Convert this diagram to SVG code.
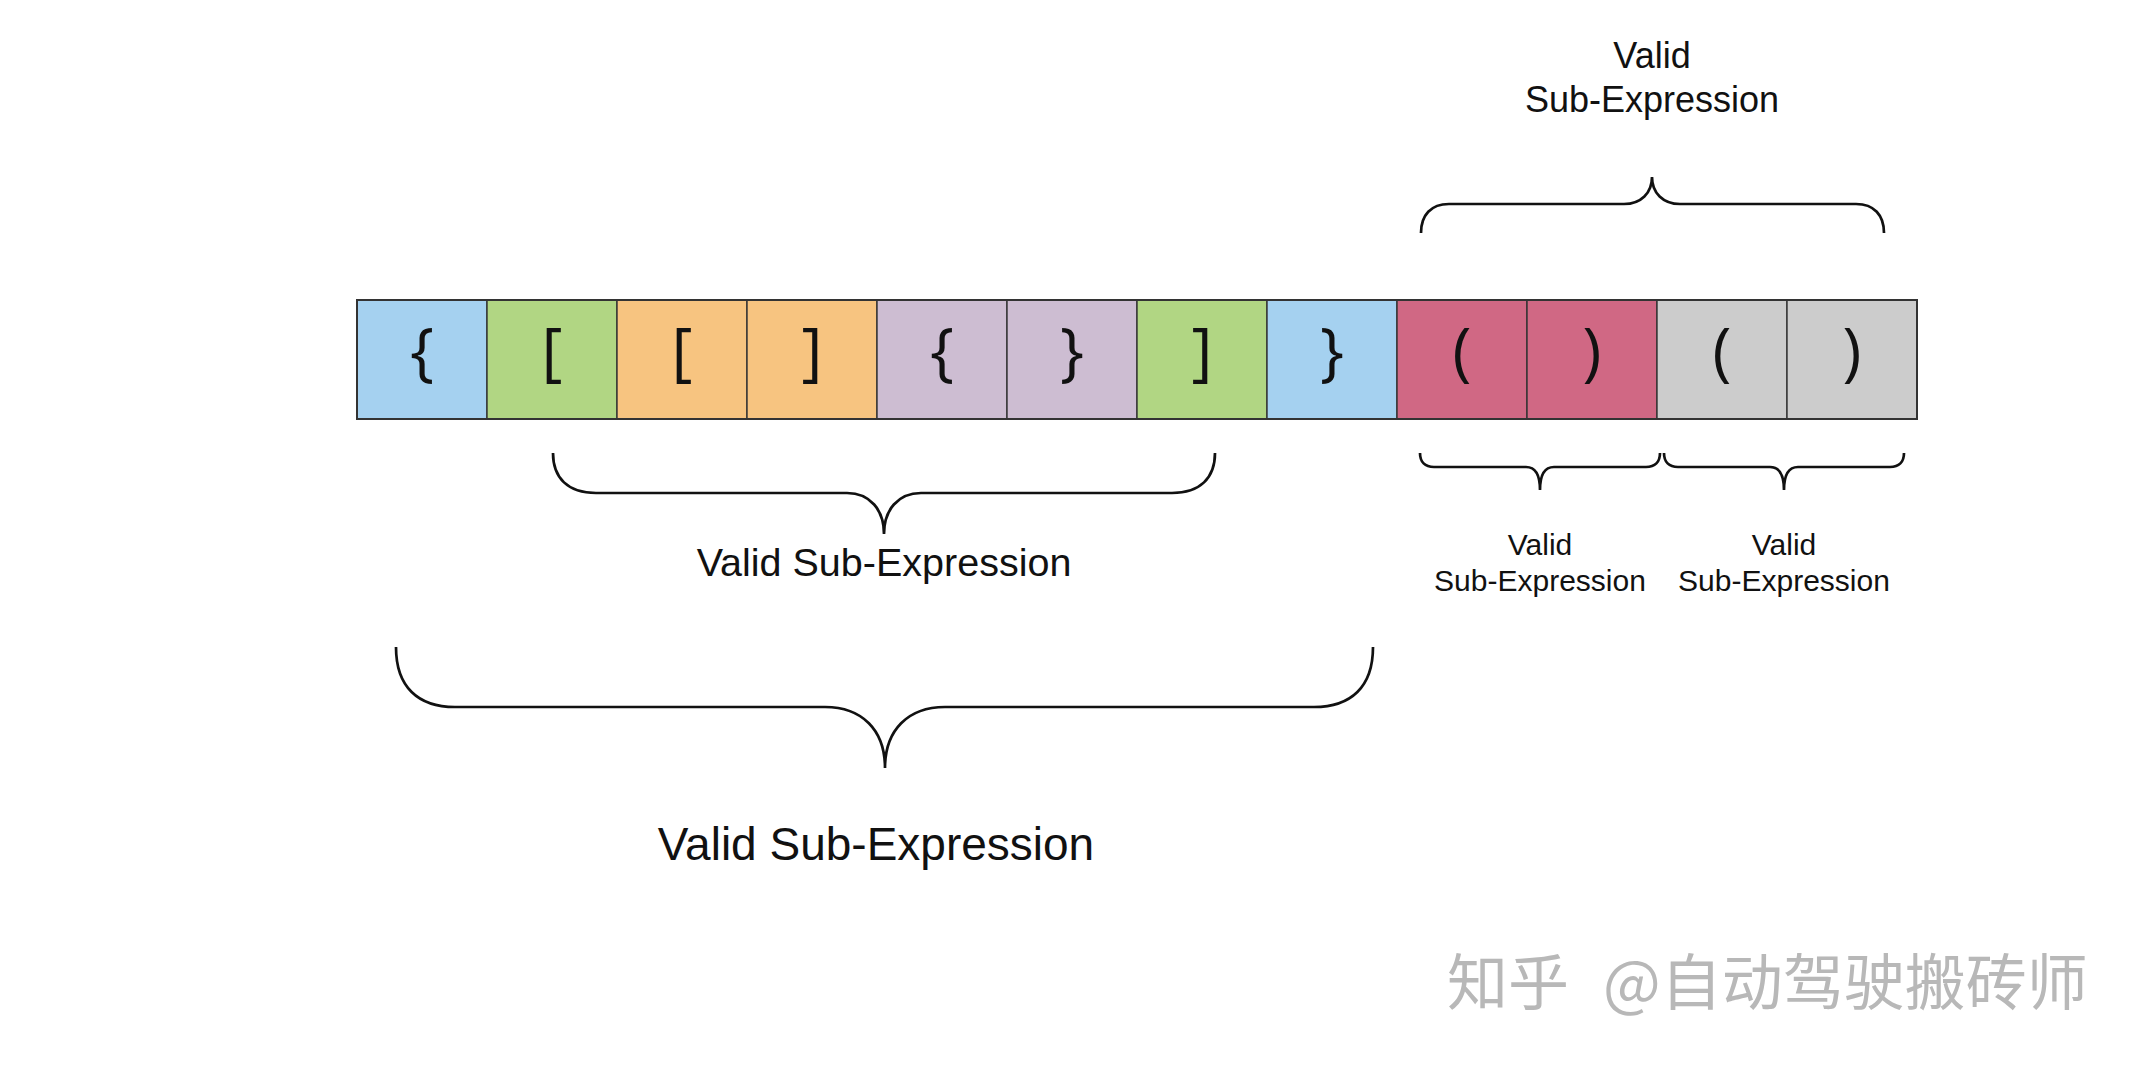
<svg xmlns="http://www.w3.org/2000/svg" width="2148" height="1072" viewBox="0 0 2148 1072">
<style>
.cell{stroke:#333;stroke-width:1.4}
.sym{font-family:"Open Sans","DejaVu Sans",sans-serif;font-size:64px;text-anchor:middle;fill:#111}
.brace{fill:none;stroke:#111;stroke-width:2.7;stroke-linecap:butt}
.lbl{font-family:"Liberation Sans",Arial,sans-serif;text-anchor:middle;fill:#111}
.wm{font-family:"Noto Sans CJK SC",sans-serif;font-size:61px;fill:#b8b8b8}
.blue{fill:#a5d1f0}.green{fill:#b1d683}.orange{fill:#f7c480}.purple{fill:#cdbdd2}.rose{fill:#d06884}.gray{fill:#cccccc}
</style>
<rect width="2148" height="1072" fill="#fff"/>
<g id="cells">
<g id="c0"><rect class="cell blue" x="357" y="300" width="130" height="119"/><text class="sym" x="422" y="374">{</text></g>
<g id="c1"><rect class="cell green" x="487" y="300" width="130" height="119"/><text class="sym" x="552" y="374">[</text></g>
<g id="c2"><rect class="cell orange" x="617" y="300" width="130" height="119"/><text class="sym" x="682" y="374">[</text></g>
<g id="c3"><rect class="cell orange" x="747" y="300" width="130" height="119"/><text class="sym" x="812" y="374">]</text></g>
<g id="c4"><rect class="cell purple" x="877" y="300" width="130" height="119"/><text class="sym" x="942" y="374">{</text></g>
<g id="c5"><rect class="cell purple" x="1007" y="300" width="130" height="119"/><text class="sym" x="1072" y="374">}</text></g>
<g id="c6"><rect class="cell green" x="1137" y="300" width="130" height="119"/><text class="sym" x="1202" y="374">]</text></g>
<g id="c7"><rect class="cell blue" x="1267" y="300" width="130" height="119"/><text class="sym" x="1332" y="374">}</text></g>
<g id="c8"><rect class="cell rose" x="1397" y="300" width="130" height="119"/><text class="sym" x="1462" y="374">(</text></g>
<g id="c9"><rect class="cell rose" x="1527" y="300" width="130" height="119"/><text class="sym" x="1592" y="374">)</text></g>
<g id="c10"><rect class="cell gray" x="1657" y="300" width="130" height="119"/><text class="sym" x="1722" y="374">(</text></g>
<g id="c11"><rect class="cell gray" x="1787" y="300" width="130" height="119"/><text class="sym" x="1852" y="374">)</text></g>
<rect x="357" y="300" width="1560" height="119" fill="none" stroke="#333" stroke-width="2"/>
</g>
<g id="connectors">
<path class="brace" d="M1421 233 C1421 215 1431 204 1449 204 L1624 204 C1641 204 1652 193 1652 177 C1652 193 1663 204 1680 204 L1856 204 C1874 204 1884 215 1884 233"/>
<path class="brace" d="M553 453 C553 478 568 493 596 493 L847 493 C870 493 884 510 884 534 C884 510 898 493 921 493 L1172 493 C1200 493 1215 478 1215 453"/>
<path class="brace" d="M396 647 C396 687 418 707 455 707 L825 707 C862 707 885 730 885 768 C885 730 908 707 945 707 L1314 707 C1351 707 1373 687 1373 647"/>
<path class="brace" d="M1420 453 C1420 462 1425 467 1434 467 L1526 467 C1535 467 1540 474 1540 490 C1540 474 1545 467 1554 467 L1646 467 C1655 467 1660 462 1660 453"/>
<path class="brace" d="M1664 453 C1664 462 1669 467 1678 467 L1770 467 C1779 467 1784 474 1784 490 C1784 474 1789 467 1798 467 L1890 467 C1899 467 1904 462 1904 453"/>
</g>
<g id="labels">
<g id="l-top"><text class="lbl" font-size="36" x="1652" y="68">Valid</text><text class="lbl" font-size="36" x="1652" y="112">Sub-Expression</text></g>
<g id="l-mid"><text class="lbl" font-size="39.5" x="884" y="576">Valid Sub-Expression</text></g>
<g id="l-big"><text class="lbl" font-size="46" x="876" y="860">Valid Sub-Expression</text></g>
<g id="l-s1"><text class="lbl" font-size="30" x="1540" y="555">Valid</text><text class="lbl" font-size="30" x="1540" y="591">Sub-Expression</text></g>
<g id="l-s2"><text class="lbl" font-size="30" x="1784" y="555">Valid</text><text class="lbl" font-size="30" x="1784" y="591">Sub-Expression</text></g>
</g>
<g id="watermark"><text class="wm" x="1447" y="1005">知乎</text><text class="wm" x="1603" y="1005">@自动驾驶搬砖师</text></g>
</svg>
